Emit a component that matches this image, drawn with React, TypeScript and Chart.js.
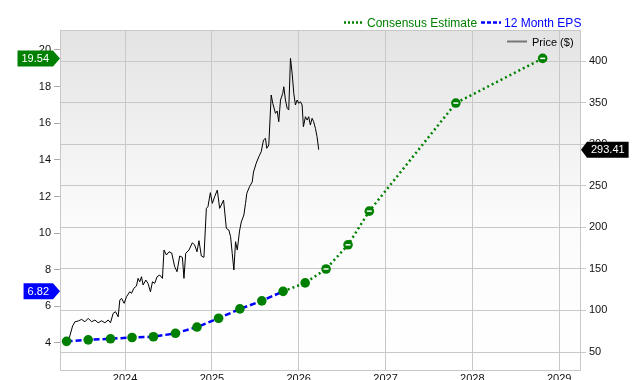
import React, { useEffect, useRef } from "react";
import { Chart, registerables } from "chart.js";

Chart.register(...registerables);

// EPS / consensus points (fiscal quarter ends, then annual estimates)
const epsDates = [2023.326, 2023.575, 2023.832, 2024.08, 2024.326, 2024.58, 2024.828, 2025.077, 2025.322, 2025.575, 2025.82, 2026.074, 2026.315, 2026.568, 2026.813, 2027.81, 2028.81];
const epsValues = [4.09, 4.17, 4.23, 4.30, 4.34, 4.53, 4.87, 5.35, 5.86, 6.30, 6.82, 7.28, 8.04, 9.36, 11.2, 17.1, 19.54];
const historyCount = 11; // points that belong to the 12 Month EPS line

const priceDates = [
  2023.345, 2023.395, 2023.422, 2023.46, 2023.499, 2023.537, 2023.575, 2023.614, 2023.652, 2023.69,
  2023.729, 2023.767, 2023.805, 2023.832, 2023.862, 2023.89, 2023.92, 2023.939, 2023.959, 2023.989,
  2024.016, 2024.054, 2024.074, 2024.1, 2024.131, 2024.149, 2024.169, 2024.189, 2024.207, 2024.238,
  2024.264, 2024.292, 2024.315, 2024.341, 2024.368, 2024.399, 2024.43, 2024.448, 2024.476, 2024.506,
  2024.537, 2024.571, 2024.598, 2024.629, 2024.66, 2024.678, 2024.698, 2024.736, 2024.775, 2024.801,
  2024.828, 2024.851, 2024.878, 2024.908, 2024.936, 2024.954, 2024.982, 2025.005, 2025.031, 2025.062,
  2025.089, 2025.108, 2025.134, 2025.166, 2025.195, 2025.215, 2025.234, 2025.253, 2025.272, 2025.292,
  2025.318, 2025.338, 2025.368, 2025.387, 2025.402, 2025.433, 2025.464, 2025.479, 2025.51, 2025.54,
  2025.568, 2025.594, 2025.617, 2025.632, 2025.655, 2025.683, 2025.701, 2025.732, 2025.752, 2025.77,
  2025.79, 2025.816, 2025.828, 2025.847, 2025.867, 2025.885, 2025.905, 2025.924, 2025.943, 2025.962,
  2025.982, 2026.0, 2026.02, 2026.039, 2026.054, 2026.077, 2026.097, 2026.115, 2026.134, 2026.154,
  2026.172, 2026.192, 2026.211, 2026.23,
];
const priceValues = [
  62.4, 81.3, 86.4, 87.3, 89.3, 86.4, 90.5, 86.4, 88.5, 85.2,
  87.6, 85.2, 88.5, 85.2, 96.5, 98.5, 92.4, 112.5, 114.6, 108.6,
  116.5, 122.5, 120.6, 126.6, 129.4, 138.6, 134.5, 140.6, 130.6, 136.6,
  132.6, 122.5, 134.5, 132.6, 140.6, 142.6, 138.6, 172.7, 166.7, 170.6,
  169.1, 152.6, 146.6, 165.5, 163.9, 138.6, 168.7, 172.7, 181.5, 178.7,
  170.6, 183.9, 165.5, 163.9, 222.8, 224.8, 241.6, 228.8, 236.8, 244.8,
  222.8, 226.8, 232.8, 198.8, 196.7, 188.7, 168.7, 148.6, 182.7, 172.7,
  195.5, 206.3, 214.8, 228.8, 240.9, 248.8, 254.5, 266.5, 277, 284.9,
  290.9, 305, 307, 295, 299, 359.1, 349.1, 337.1, 339.9, 327,
  353.1, 361.1, 369.1, 353.1, 343.1, 341.1, 403.2, 385.2, 361.1, 347.1,
  353.1, 349.1, 351, 347.1, 321, 333, 329, 333, 323, 331.1,
  327, 319, 309, 293.41,
];

const xTicks = [2024, 2025, 2026, 2027, 2028, 2029];
const epsTicks = [4, 6, 8, 10, 12, 14, 16, 18, 20];
const priceTicks = [50, 100, 150, 200, 250, 300, 350, 400];

const FONT = "'Liberation Sans', Arial, sans-serif";
const GREEN = "#008000";
const BLUE = "#0000ff";
const GRID = "#c8c8c8";

function drawTag(ctx: CanvasRenderingContext2D, text: string, tipX: number, y: number, color: string, pointRight: boolean) {
  ctx.save();
  ctx.font = `11px ${FONT}`;
  const w = ctx.measureText(text).width + 8;
  const h = 16;
  const arrow = 7;
  ctx.fillStyle = color;
  ctx.beginPath();
  if (pointRight) {
    const right = tipX - arrow;
    ctx.moveTo(tipX, y);
    ctx.lineTo(right, y - h / 2);
    ctx.lineTo(right - w, y - h / 2);
    ctx.lineTo(right - w, y + h / 2);
    ctx.lineTo(right, y + h / 2);
    ctx.closePath();
    ctx.fill();
    ctx.fillStyle = "#fff";
    ctx.textAlign = "center";
    ctx.textBaseline = "middle";
    ctx.fillText(text, right - w / 2, y + 0.5);
  } else {
    const left = tipX + arrow - 1;
    ctx.moveTo(tipX, y);
    ctx.lineTo(left, y - h / 2);
    ctx.lineTo(left + w, y - h / 2);
    ctx.lineTo(left + w, y + h / 2);
    ctx.lineTo(left, y + h / 2);
    ctx.closePath();
    ctx.fill();
    ctx.fillStyle = "#fff";
    ctx.textAlign = "center";
    ctx.textBaseline = "middle";
    ctx.fillText(text, left + w / 2, y + 0.5);
  }
  ctx.restore();
}

const decorPlugin = {
  id: "decor",
  beforeDraw(chart: any) {
    const { ctx, chartArea: a } = chart;
    const g = ctx.createLinearGradient(0, a.top, 0, a.bottom);
    g.addColorStop(0, "#e3e3e3");
    g.addColorStop(0.55, "#fbfbfb");
    g.addColorStop(1, "#ffffff");
    ctx.save();
    ctx.fillStyle = g;
    ctx.fillRect(a.left, a.top, a.right - a.left, a.bottom - a.top);
    ctx.restore();
  },
  afterDatasetsDraw(chart: any) {
    const { ctx } = chart;
    const meta = chart.getDatasetMeta(3);
    ctx.save();
    ctx.strokeStyle = "#ffffff";
    ctx.lineWidth = 1.5;
    meta.data.forEach((pt: any, i: number) => {
      if (i < 12) return;
      ctx.beginPath();
      ctx.moveTo(pt.x - 2.5, pt.y);
      ctx.lineTo(pt.x + 2.5, pt.y);
      ctx.stroke();
    });
    ctx.restore();
  },
  afterDraw(chart: any) {
    const { ctx, chartArea: a, scales } = chart;
    ctx.save();
    // top border
    ctx.strokeStyle = GRID;
    ctx.lineWidth = 1;
    ctx.beginPath();
    ctx.moveTo(a.left, a.top + 0.5);
    ctx.lineTo(a.right, a.top + 0.5);
    ctx.stroke();

    // legend
    ctx.font = `12px ${FONT}`;
    ctx.textBaseline = "alphabetic";
    ctx.lineWidth = 2.5;
    ctx.strokeStyle = GREEN;
    ctx.setLineDash([2, 2]);
    ctx.beginPath();
    ctx.moveTo(344, 22.5);
    ctx.lineTo(363, 22.5);
    ctx.stroke();
    ctx.fillStyle = GREEN;
    ctx.fillText("Consensus Estimate", 367, 27);

    ctx.strokeStyle = BLUE;
    ctx.setLineDash([4, 2]);
    ctx.beginPath();
    ctx.moveTo(481, 22.5);
    ctx.lineTo(501, 22.5);
    ctx.stroke();
    ctx.fillStyle = BLUE;
    ctx.fillText("12 Month EPS", 504, 27);
    ctx.setLineDash([]);

    ctx.strokeStyle = "#777777";
    ctx.lineWidth = 2;
    ctx.beginPath();
    ctx.moveTo(507, 41.5);
    ctx.lineTo(527, 41.5);
    ctx.stroke();
    ctx.font = `11px ${FONT}`;
    ctx.fillStyle = "#000";
    ctx.fillText("Price ($)", 532, 45.5);
    ctx.restore();

    // value tags
    const yL = scales.yL;
    const yR = scales.yR;
    drawTag(ctx, epsValues[epsValues.length - 1].toFixed(2), a.left, yL.getPixelForValue(epsValues[epsValues.length - 1]), GREEN, true);
    drawTag(ctx, epsValues[historyCount - 1].toFixed(2), a.left, yL.getPixelForValue(epsValues[historyCount - 1]), BLUE, true);
    drawTag(ctx, priceValues[priceValues.length - 1].toFixed(2), a.right + 1, yR.getPixelForValue(priceValues[priceValues.length - 1]), "#000000", false);
  },
};

export default function App() {
  const ref = useRef<HTMLCanvasElement | null>(null);

  useEffect(() => {
    if (!ref.current) return;
    const pts = epsDates.map((d, i) => ({ x: d, y: epsValues[i] }));
    const chart = new Chart(ref.current, {
      type: "line",
      data: {
        datasets: [
          {
            label: "Consensus Estimate",
            data: pts.slice(historyCount - 1),
            yAxisID: "yL",
            borderColor: GREEN,
            borderWidth: 2.5,
            borderDash: [2, 3],
            pointRadius: 0,
            tension: 0,
            order: 4,
          },
          {
            label: "12 Month EPS",
            data: pts.slice(0, historyCount),
            yAxisID: "yL",
            borderColor: BLUE,
            borderWidth: 2.5,
            borderDash: [6, 3],
            pointRadius: 0,
            tension: 0,
            order: 3,
          },
          {
            label: "Price ($)",
            data: priceDates.map((d, i) => ({ x: d, y: priceValues[i] })),
            yAxisID: "yR",
            borderColor: "#000000",
            borderWidth: 1,
            pointRadius: 0,
            tension: 0,
            order: 2,
          },
          {
            label: "points",
            data: pts,
            yAxisID: "yL",
            showLine: false,
            pointRadius: 4.8,
            pointBackgroundColor: GREEN,
            pointBorderColor: GREEN,
            pointBorderWidth: 0,
            order: 1,
          },
        ],
      } as any,
      options: {
        animation: false,
        responsive: false,
        maintainAspectRatio: false,
        layout: { padding: { top: 30, left: 0, right: 0, bottom: 0 } },
        plugins: { legend: { display: false }, tooltip: { enabled: false } },
        scales: {
          x: {
            type: "linear",
            min: 2023.25,
            max: 2029.24,
            afterBuildTicks: (s: any) => {
              s.ticks = xTicks.map((v) => ({ value: v }));
            },
            afterFit: (s: any) => {
              s.height = 10;
            },
            grid: { color: GRID, drawTicks: false },
            border: { color: GRID },
            ticks: {
              padding: 2,
              color: "#111",
              font: { family: FONT, size: 11 },
              callback: (v: any) => String(v),
            },
          },
          yL: {
            type: "linear",
            position: "left",
            min: 2.525,
            max: 21.09,
            afterBuildTicks: (s: any) => {
              s.ticks = epsTicks.map((v) => ({ value: v }));
            },
            afterFit: (s: any) => {
              s.width = 60;
            },
            grid: { drawOnChartArea: false, color: "#aaaaaa", tickLength: 6 },
            border: { color: GRID },
            ticks: { padding: 3, color: "#111", font: { family: FONT, size: 11 }, callback: (v: any) => String(v) },
          },
          yR: {
            type: "linear",
            position: "right",
            min: 28.4,
            max: 437.3,
            afterBuildTicks: (s: any) => {
              s.ticks = priceTicks.map((v) => ({ value: v }));
            },
            afterFit: (s: any) => {
              s.width = 60;
            },
            grid: { color: GRID, tickLength: 6 },
            border: { color: GRID },
            ticks: { padding: 3, color: "#111", font: { family: FONT, size: 11 }, callback: (v: any) => String(v) },
          },
        },
      } as any,
      plugins: [decorPlugin],
    });
    return () => chart.destroy();
  }, []);

  return (
    <div style={{ position: "absolute", left: 0, top: 0, width: 640, height: 380, background: "#fff" }}>
      <canvas ref={ref} width={640} height={380} style={{ width: 640, height: 380, display: "block" }} />
    </div>
  );
}
